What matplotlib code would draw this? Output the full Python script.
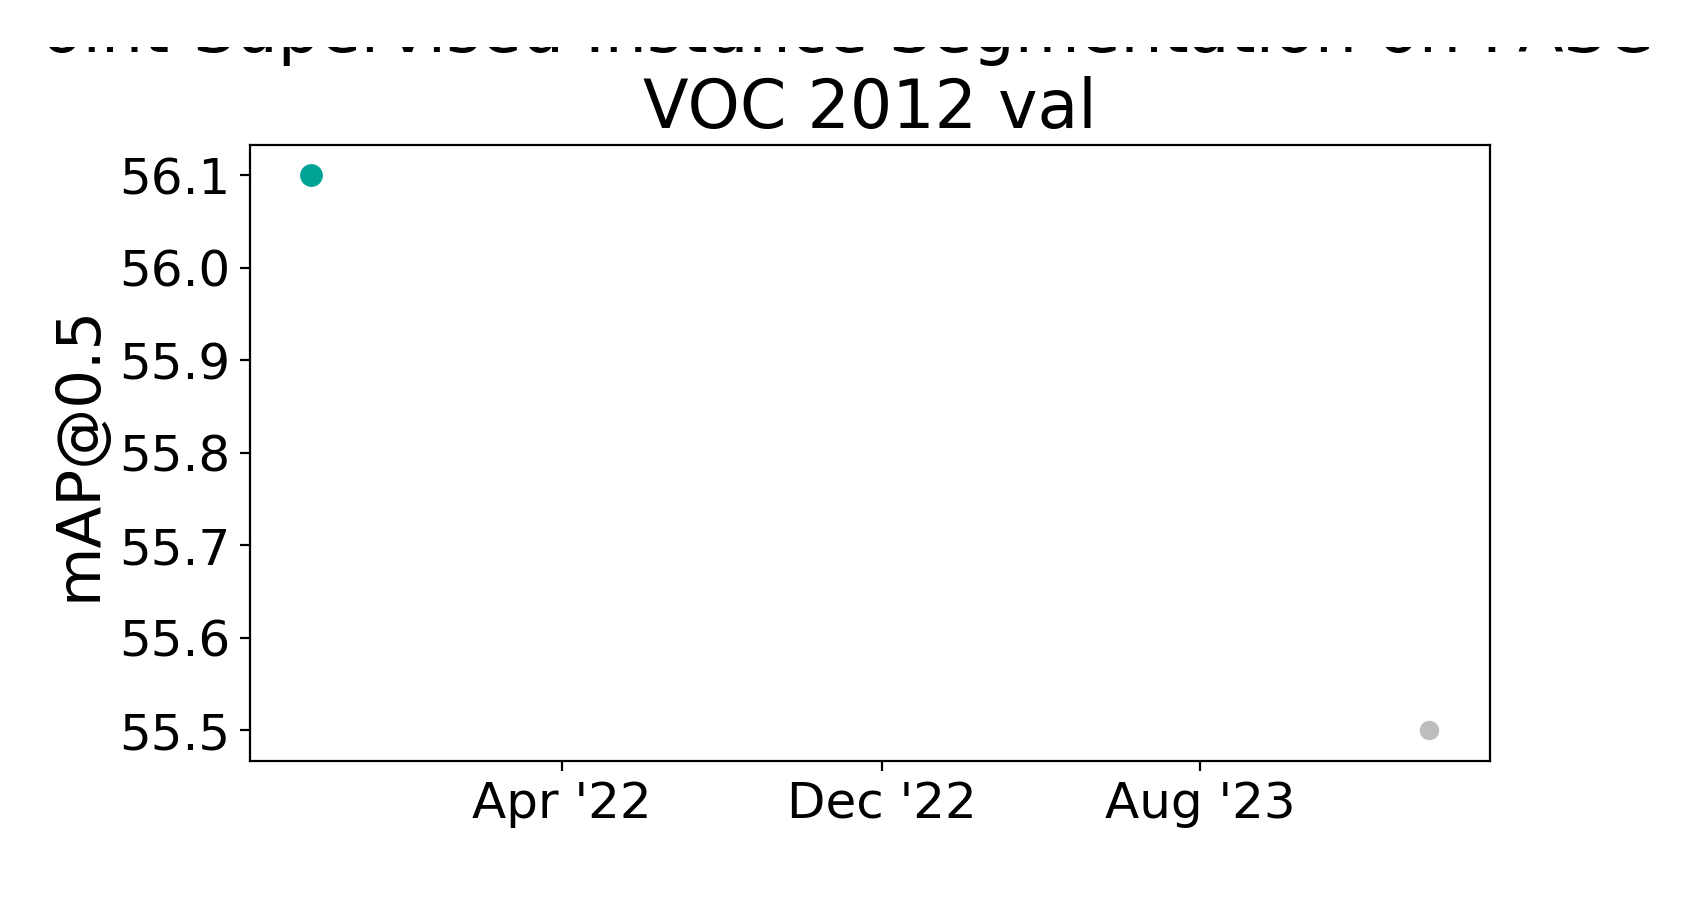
import pandas as pd
import matplotlib
matplotlib.use("Agg")
import matplotlib.pyplot as plt
import matplotlib.dates as mdates
from matplotlib.transforms import Bbox, TransformedBbox

# results
paper_dates = ["2021-09-22", "2024-01-22"]
map50 = [56.1, 55.5]
tick_dates = ["2022-04-01", "2022-12-01", "2023-08-01"]
title_text = "Point-Supervised Instance Segmentation on PASCAL\nVOC 2012 val"


def main():
    dates = pd.to_datetime(paper_dates)
    fig, ax = plt.subplots(figsize=(8.5, 4.5), dpi=200)
    fig.subplots_adjust(left=0.147, right=0.8765, top=0.839, bottom=0.1545)

    # first point is the best one, later one in grey
    ax.scatter(dates[:1], map50[:1], s=52, color="#00a396", zorder=3)
    ax.scatter(dates[1:], map50[1:], s=36, color="#bdbdbd", zorder=3)

    ax.margins(0.055)
    ax.set_xticks(pd.to_datetime(tick_dates))
    ax.xaxis.set_major_formatter(mdates.DateFormatter("%b '%y"))
    ax.set_yticks([55.5, 55.6, 55.7, 55.8, 55.9, 56.0, 56.1])
    ax.yaxis.set_major_formatter(plt.FormatStrFormatter("%.1f"))
    ax.tick_params(labelsize=18)
    ax.set_ylabel("mAP@0.5", fontsize=22)

    title = ax.set_title(title_text, fontsize=24)
    # the top line runs off the picture, only its lower middle part shows
    clip = TransformedBbox(Bbox.from_extents(0.23, 0, 8.26, 4.265), fig.dpi_scale_trans)
    title.set_clip_box(clip)
    title.set_clip_on(True)

    fig.savefig("out.png", dpi=200)


main()
